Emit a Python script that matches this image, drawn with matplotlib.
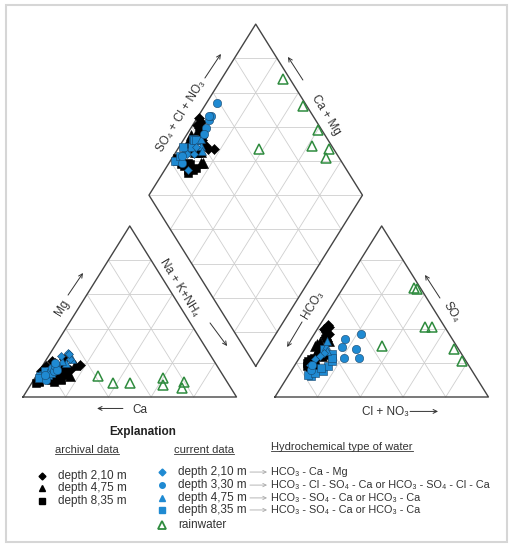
import numpy as np
import matplotlib
matplotlib.use("Agg")
import matplotlib.pyplot as plt
from matplotlib.patches import Rectangle

plt.rcParams['font.family'] = ['Liberation Sans', 'DejaVu Sans']

# ---- data (percent of meq) : Mg, Na+K for cations ; SO4, Cl for anions ----
arch_210_mg = [18, 20, 15, 22, 17, 12, 19, 14, 21, 16]
arch_210_na = [2, 5, 1, 8, 12, 4, 17, 9, 3, 14]
arch_210_so4 = [40, 38, 42, 36, 34, 39, 37, 33, 41, 35]
arch_210_cl = [3, 5, 4, 6, 7, 4, 7, 8, 5, 6]

arch_475_mg = [13, 16, 10, 19, 14, 11, 17, 12, 20, 15]
arch_475_na = [3, 10, 2, 15, 7, 12, 5, 16, 9, 4]
arch_475_so4 = [30, 27, 32, 24, 29, 26, 31, 25, 28, 33]
arch_475_cl = [4, 8, 5, 10, 7, 11, 4, 10, 6, 9]

arch_835_mg = [9, 12, 8, 14, 10, 13, 11, 16, 9, 12, 15, 10]
arch_835_na = [3, 6, 2, 11, 8, 14, 4, 12, 10, 9, 5, 13]
arch_835_so4 = [15, 18, 14, 21, 17, 23, 16, 20, 19, 22, 24, 18]
arch_835_cl = [9, 6, 10, 5, 8, 7, 10, 5, 9, 6, 8, 10]

cur_210_mg = [24, 26, 22, 25]
cur_210_na = [6, 8, 11, 9]
cur_210_so4 = [22, 26, 19, 24]
cur_210_cl = [8, 10, 7, 9]

cur_330_mg = [17, 19, 15, 18, 16, 20, 10, 13]
cur_330_na = [5, 6, 7, 6, 8, 5, 6, 4]
cur_330_so4 = [37, 34, 29, 28, 23, 23, 16, 19]
cur_330_cl = [22, 16, 17, 24, 21, 28, 9, 8]

cur_475_mg = [20, 22, 21]
cur_475_na = [10, 12, 8]
cur_475_so4 = [30, 27, 33]
cur_475_cl = [9, 11, 8]

cur_835_mg = [13, 15, 12, 16, 14, 17, 13, 15, 11, 14]
cur_835_na = [3, 5, 2, 6, 4, 7, 5, 3, 2, 6]
cur_835_so4 = [12, 15, 13, 18, 21, 25, 28, 14, 17, 23]
cur_835_cl = [11, 15, 9, 16, 16, 14, 9, 12, 13, 15]

rain_mg = [12, 8, 8, 11, 7, 9, 5]
rain_na = [29, 38, 46, 60, 62, 71, 72]
rain_so4 = [64, 30, 63, 28, 41, 21, 41]
rain_cl = [33, 35, 35, 70, 50, 77, 53]

legend_archival = ["depth 2,10 m", "depth 4,75 m", "depth 8,35 m"]
legend_current = ["depth 2,10 m", "depth 3,30 m", "depth 4,75 m", "depth 8,35 m", "rainwater"]
water_types = ["HCO₃ - Ca - Mg",
               "HCO₃ - Cl - SO₄ - Ca or HCO₃ - SO₄ - Cl - Ca",
               "HCO₃ - SO₄ - Ca or HCO₃ - Ca",
               "HCO₃ - SO₄ - Ca or HCO₃ - Ca"]

H = np.sqrt(3) / 2
g = 0.18
BLUE = '#1f8ad2'
GREEN = '#2e8b3e'
GRID = '#cfcfcf'
EDGE = '#444444'
TXT = '#333333'


def cation_xy(mg, na):
    mg = np.array(mg) / 100.0
    na = np.array(na) / 100.0
    return na + mg / 2, H * mg


def anion_xy(so4, cl):
    so4 = np.array(so4) / 100.0
    cl = np.array(cl) / 100.0
    return 1 + g + cl + so4 / 2, H * so4


def diamond_xy(na, so4, cl):
    c = 1 - np.array(na) / 100.0
    a = (np.array(so4) + np.array(cl)) / 100.0
    return 1 + g / 2 + 0.5 * (a - c), H * g + H * (a + c)


fig = plt.figure(figsize=(5.13, 5.5), dpi=100)
ax = fig.add_axes([0, 0, 1, 1])
ax.set_xlim(-23 / 213.5, 490 / 213.5)
ax.set_ylim(-153 / 197.5, 397 / 197.5)
ax.axis('off')

# triangles grids
for x0 in [0, 1 + g]:
    for k in [0.2, 0.4, 0.6, 0.8]:
        ax.plot([x0 + k / 2, x0 + 1 - k / 2], [H * k, H * k], color=GRID, lw=0.6, zorder=1)
        ax.plot([x0 + k, x0 + k / 2 + 0.5], [0, H * (1 - k)], color=GRID, lw=0.6, zorder=1)
        ax.plot([x0 + k, x0 + k / 2], [0, H * k], color=GRID, lw=0.6, zorder=1)
    ax.plot([x0, x0 + 1, x0 + 0.5, x0], [0, 0, H, 0], color=EDGE, lw=1.0, zorder=2)

# diamond grid
bx, by = 1 + g / 2, H * g
for k in [0.2, 0.4, 0.6, 0.8]:
    ax.plot([bx - k / 2, bx - k / 2 + 0.5], [by + H * k, by + H * k + H], color=GRID, lw=0.6, zorder=1)
    ax.plot([bx + k / 2, bx + k / 2 - 0.5], [by + H * k, by + H * k + H], color=GRID, lw=0.6, zorder=1)
for k in range(1, 10):
    h = 0.2 * H * k
    half = h / np.sqrt(3) if h <= H else (2 * H - h) / np.sqrt(3)
    ax.plot([bx - half, bx + half], [by + h, by + h], color=GRID, lw=0.6, zorder=1)
ax.plot([bx, bx - 0.5, bx, bx + 0.5, bx], [by, by + H, by + 2 * H, by + H, by], color=EDGE, lw=1.0, zorder=2)

groups = [
    (arch_210_mg, arch_210_na, arch_210_so4, arch_210_cl, 'D', 'black', 'black', 5),
    (arch_475_mg, arch_475_na, arch_475_so4, arch_475_cl, '^', 'black', 'black', 6.5),
    (arch_835_mg, arch_835_na, arch_835_so4, arch_835_cl, 's', 'black', 'black', 6),
    (cur_835_mg, cur_835_na, cur_835_so4, cur_835_cl, 's', BLUE, '#17456b', 5.5),
    (cur_475_mg, cur_475_na, cur_475_so4, cur_475_cl, '^', BLUE, '#17456b', 6),
    (cur_210_mg, cur_210_na, cur_210_so4, cur_210_cl, 'D', BLUE, '#17456b', 4.5),
    (cur_330_mg, cur_330_na, cur_330_so4, cur_330_cl, 'o', BLUE, '#17456b', 6),
]
for z, (mg, na, so4, cl, m, fc, ec, ms) in enumerate(groups):
    for xs, ys in [cation_xy(mg, na), anion_xy(so4, cl), diamond_xy(na, so4, cl)]:
        ax.plot(xs, ys, ls='none', marker=m, ms=ms, mfc=fc, mec=ec, mew=0.4, zorder=3 + z)

for xs, ys in [cation_xy(rain_mg, rain_na), anion_xy(rain_so4, rain_cl),
               diamond_xy(rain_na, rain_so4, rain_cl)]:
    ax.plot(xs, ys, ls='none', marker='^', ms=6.5, mfc='none', mec=GREEN, mew=1.1, zorder=12)

# axis labels and arrows
fs = 8.5
rot = 58.4
labels = [
    ("Mg", 0.183, 0.451, rot), ("Ca", 0.548, -0.066, 0),
    ("Na + K+NH₄", 0.735, 0.552, -rot), ("HCO₃", 1.358, 0.466, rot),
    ("SO₄", 2.009, 0.430, -rot), ("Cl + NO₃", 1.696, -0.076, 0),
    ("SO₄ + Cl + NO₃", 0.740, 1.423, rot), ("Ca + Mg", 1.419, 1.428, -rot),
]
for s, x, y, r in labels:
    ax.text(x, y, s, fontsize=fs, rotation=r, ha='center', va='center', color=TXT,
            rotation_mode='anchor')

arrows = [
    ((0.211, 0.516), (0.281, 0.628)), ((0.468, -0.058), (0.347, -0.058)),
    ((0.876, 0.375), (0.956, 0.258)), ((1.307, 0.380), (1.237, 0.253)),
    ((1.953, 0.501), (1.883, 0.618)), ((1.813, -0.073), (1.944, -0.073)),
    ((0.852, 1.615), (0.927, 1.737)), ((1.311, 1.605), (1.241, 1.722)),
]
for (x0, y0), (x1, y1) in arrows:
    ax.annotate('', xy=(x1, y1), xytext=(x0, y0),
                arrowprops=dict(arrowstyle='->', lw=0.7, color=TXT,
                                shrinkA=0, shrinkB=0, mutation_scale=7))

# explanation
ax.text(0.562, -0.177, "Explanation", fontsize=8.5, fontweight='bold', ha='center', va='center',
        color='#222222')
heads = [ax.text(0.300, -0.268, "archival data", fontsize=8, ha='center', va='center', color=TXT),
         ax.text(0.848, -0.268, "current data", fontsize=8, ha='center', va='center', color=TXT),
         ax.text(1.162, -0.253, "Hydrochemical type of water", fontsize=8, ha='left', va='center',
                 color=TXT)]

arch_y = [-0.400, -0.461, -0.527]
for y, m, lab in zip(arch_y, ['D', '^', 's'], legend_archival):
    ax.plot(0.089, y, marker=m, ms=3.5 if m == 'D' else 4, color='black', ls='none')
    ax.text(0.164, y, lab, fontsize=fs, va='center', color=TXT)

cur_y = [-0.380, -0.446, -0.511, -0.572, -0.648]
for i, (y, m, lab) in enumerate(zip(cur_y, ['D', 'o', '^', 's', '^'], legend_current)):
    if i < 4:
        ax.plot(0.651, y, marker=m, ms=3.5 if m == 'D' else 4, color=BLUE, ls='none')
        ax.annotate('', xy=(1.143, y), xytext=(1.063, y),
                    arrowprops=dict(arrowstyle='->', lw=0.6, color='#aaaaaa',
                                    shrinkA=0, shrinkB=0, mutation_scale=6))
        ax.text(1.162, y, water_types[i], fontsize=7.8, va='center', color=TXT)
    else:
        ax.plot(0.651, y, marker=m, ms=6, mfc='none', mec=GREEN, mew=1.3, ls='none')
    ax.text(0.726, y, lab, fontsize=fs, va='center', color=TXT)

# underline headings
fig.canvas.draw()
inv = ax.transData.inverted()
for t in heads:
    bb = t.get_window_extent()
    (x0, y0), (x1, y1) = inv.transform([(bb.x0, bb.y0), (bb.x1, bb.y1)])
    ax.plot([x0, x1], [y0 + 0.004, y0 + 0.004], color=TXT, lw=0.6)

fig.add_artist(Rectangle((6 / 513, 8 / 550), 501 / 513, 537 / 550, transform=fig.transFigure,
                         fill=False, ec='#d6d6d6', lw=1.5))

fig.savefig("out.png", dpi=100)
